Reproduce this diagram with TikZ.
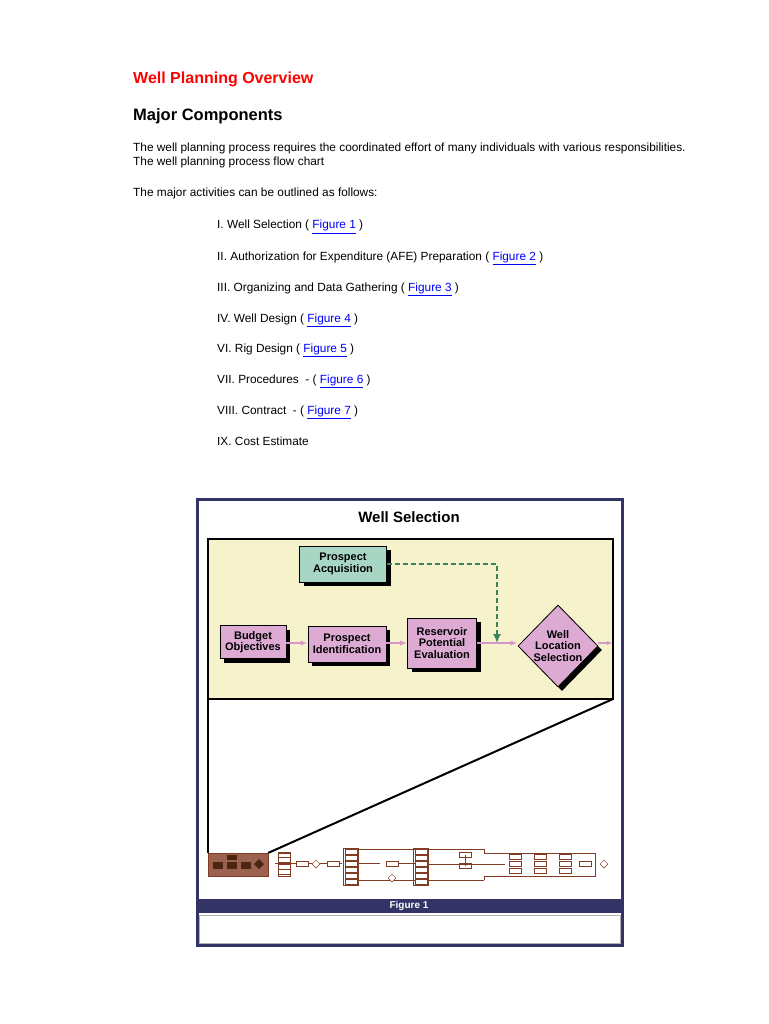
\documentclass[tikz,border=0pt]{standalone}
\usepackage{fontspec}
\setmainfont{Liberation Sans}
\usetikzlibrary{shapes.geometric,arrows.meta,positioning,calc,shadows}
\definecolor{navy}{RGB}{51,51,102}
\definecolor{cream}{RGB}{245,242,204}
\definecolor{pinkbox}{RGB}{220,170,210}
\definecolor{tealbox}{RGB}{168,214,196}
\definecolor{pinkline}{RGB}{215,150,200}
\definecolor{dashgreen}{RGB}{60,130,90}
\definecolor{brown}{RGB}{130,60,35}
\newcommand{\fig}[1]{{\color{blue}\underline{Figure #1}}}
\begin{document}
\begin{tikzpicture}[x=1pt,y=-1pt,
	txt/.style={anchor=base west,inner sep=0pt,font=\fontsize{11.85}{14}\selectfont},
	proc/.style={rectangle,draw=black,line width=0.8pt,fill=pinkbox,align=center,
		font=\fontsize{11}{11.5}\selectfont\bfseries,inner sep=1pt,
		drop shadow={shadow xshift=4pt,shadow yshift=-4pt,fill=black,opacity=1}},
	flow/.style={-{Latex[length=7pt]},pinkline,line width=2pt},
	mini/.style={draw=brown,line width=0.5pt,fill=white,minimum width=12pt,minimum height=5pt,inner sep=0pt}]
	\useasboundingbox (0,0) rectangle (768,1024);
	
	% page text
	\node[txt,font=\fontsize{16}{18}\selectfont\bfseries,text=red] (title) at (133,84) {Well Planning Overview};
	\node[txt,font=\fontsize{16.5}{18}\selectfont\bfseries] (major) at (133,121) {Major Components};
	\node[txt] (par1) at (133,152) {The well planning process requires the coordinated effort of many individuals with various responsibilities.};
	\node[txt] (par2) at (133,166) {The well planning process flow chart};
	\node[txt] (par3) at (133,197) {The major activities can be outlined as follows:};
	\node[txt] (it1) at (217,229) {I. Well Selection ( \fig{1} )};
	\node[txt] (it2) at (217,260) {II. Authorization for Expenditure (AFE) Preparation ( \fig{2} )};
	\node[txt] (it3) at (217,291) {III. Organizing and Data Gathering ( \fig{3} )};
	\node[txt] (it4) at (217,322) {IV. Well Design ( \fig{4} )};
	\node[txt] (it5) at (217,352) {VI. Rig Design ( \fig{5} )};
	\node[txt] (it6) at (217,383) {VII. Procedures\ \ - ( \fig{6} )};
	\node[txt] (it7) at (217,414) {VIII. Contract\ \ - ( \fig{7} )};
	\node[txt] (it8) at (217,445) {IX. Cost Estimate};
	
	% figure frame
	\draw[navy,line width=3pt] (197,499) rectangle (622,945);
	\node[font=\fontsize{15}{17}\selectfont\bfseries] (wsel) at (409,517) {Well Selection};
	\fill[cream] (208,539) rectangle (613,699);
	\draw[line width=1.5pt] (208,539) rectangle (613,699);
	
	% flow chart
	\node[proc,fill=tealbox,minimum width=87pt,minimum height=36pt] (acq) at (343,564) {Prospect\\Acquisition};
	\node[proc,minimum width=66pt,minimum height=33pt] (budget) at (253,642) {Budget\\Objectives};
	\node[proc,minimum width=78pt,minimum height=36pt] (ident) at (347,644) {Prospect\\Identification};
	\node[proc,minimum width=69pt,minimum height=50pt] (res) at (442,643) {Reservoir\\Potential\\Evaluation};
	\node[proc,diamond,minimum width=80pt,minimum height=82pt,inner sep=0pt] (wls) at (558,646) {Well\\Location\\Selection};
	\coordinate (join) at (497,643);
	\coordinate (out) at (613,643);
	\draw[flow] (budget.east |- join) -- (ident.west |- join);
	\draw[flow] (ident.east |- join) -- (res.west |- join);
	\draw[flow] (res.east |- join) -- (wls.west |- join);
	\draw[flow,-{Latex[length=6pt]}] (wls.east |- join) -- (out);
	\draw[dashgreen,line width=1.8pt,dash pattern=on 5pt off 3pt,-{Latex[length=9pt,width=8pt]}] (acq.east) -| (join);
	
	% zoom lines
	\coordinate (minitl) at (208,853);
	\coordinate (minitr) at (268,853);
	\draw[line width=2pt] (208,699) -- (minitl);
	\draw[line width=2pt] (613,699) -- (minitr);
	
	% miniature of the whole chart
	\draw[brown,fill=brown!80!white,line width=1pt] (208,853) rectangle (268,876);
	\foreach \x in {218,232,246} \fill[brown!60!black] (\x-5,862) rectangle (\x+5,869);
	\fill[brown!60!black] (227,855) rectangle (237,860);
	\fill[brown!60!black] (259,859) -- (264,864) -- (259,869) -- (254,864) -- cycle;
	\draw[brown,line width=0.6pt] (275,863) -- (300,863) (305,863) -- (342,863) (350,863) -- (380,863) (395,863) -- (425,863);
	\foreach \y in {855,860,867,872} \node[mini] at (284,\y) {};
	\draw[brown,line width=0.6pt] (278,853) rectangle (290,876);
	\node[mini] (m1) at (302,864) {};
	\node[mini,diamond,minimum width=8pt,minimum height=8pt] (m2) at (316,864) {};
	\node[mini] (m3) at (333,864) {};
	\draw[brown,line width=0.6pt] (343,848) rectangle (358,885);
	\foreach \y in {852,858,864,870,876,882} \node[mini] at (351,\y) {};
	\draw[brown,line width=0.6pt] (358,849) -- (484,849) (358,880) -- (484,880);
	\node[mini] at (392,864) {};
	\node[mini,diamond,minimum width=8pt,minimum height=8pt] at (392,878) {};
	\draw[brown,line width=0.6pt] (413,848) rectangle (428,885);
	\foreach \y in {852,858,864,870,876,882} \node[mini] at (421,\y) {};
	\node[mini] at (465,855) {};
	\node[mini] at (465,866) {};
	\draw[brown,line width=0.6pt] (465,855) -- (465,866) (428,864) -- (505,864);
	\draw[brown,line width=0.6pt] (484,849) -- (484,853) -- (595,853) -- (595,876) -- (484,876) -- (484,880);
	\foreach \x in {515,540,565} \foreach \y in {857,864,871} \node[mini] at (\x,\y) {};
	\node[mini] at (585,864) {};
	\node[mini,diamond,minimum width=8pt,minimum height=8pt] at (604,864) {};
	
	% caption bar
	\fill[navy] (197,899) rectangle (622,913);
	\node[text=white,font=\fontsize{10}{12}\selectfont\bfseries] (cap) at (409,906) {Figure 1};
	\draw[gray!60,line width=1pt] (199,915) rectangle (620,943);
\end{tikzpicture}
\end{document}
